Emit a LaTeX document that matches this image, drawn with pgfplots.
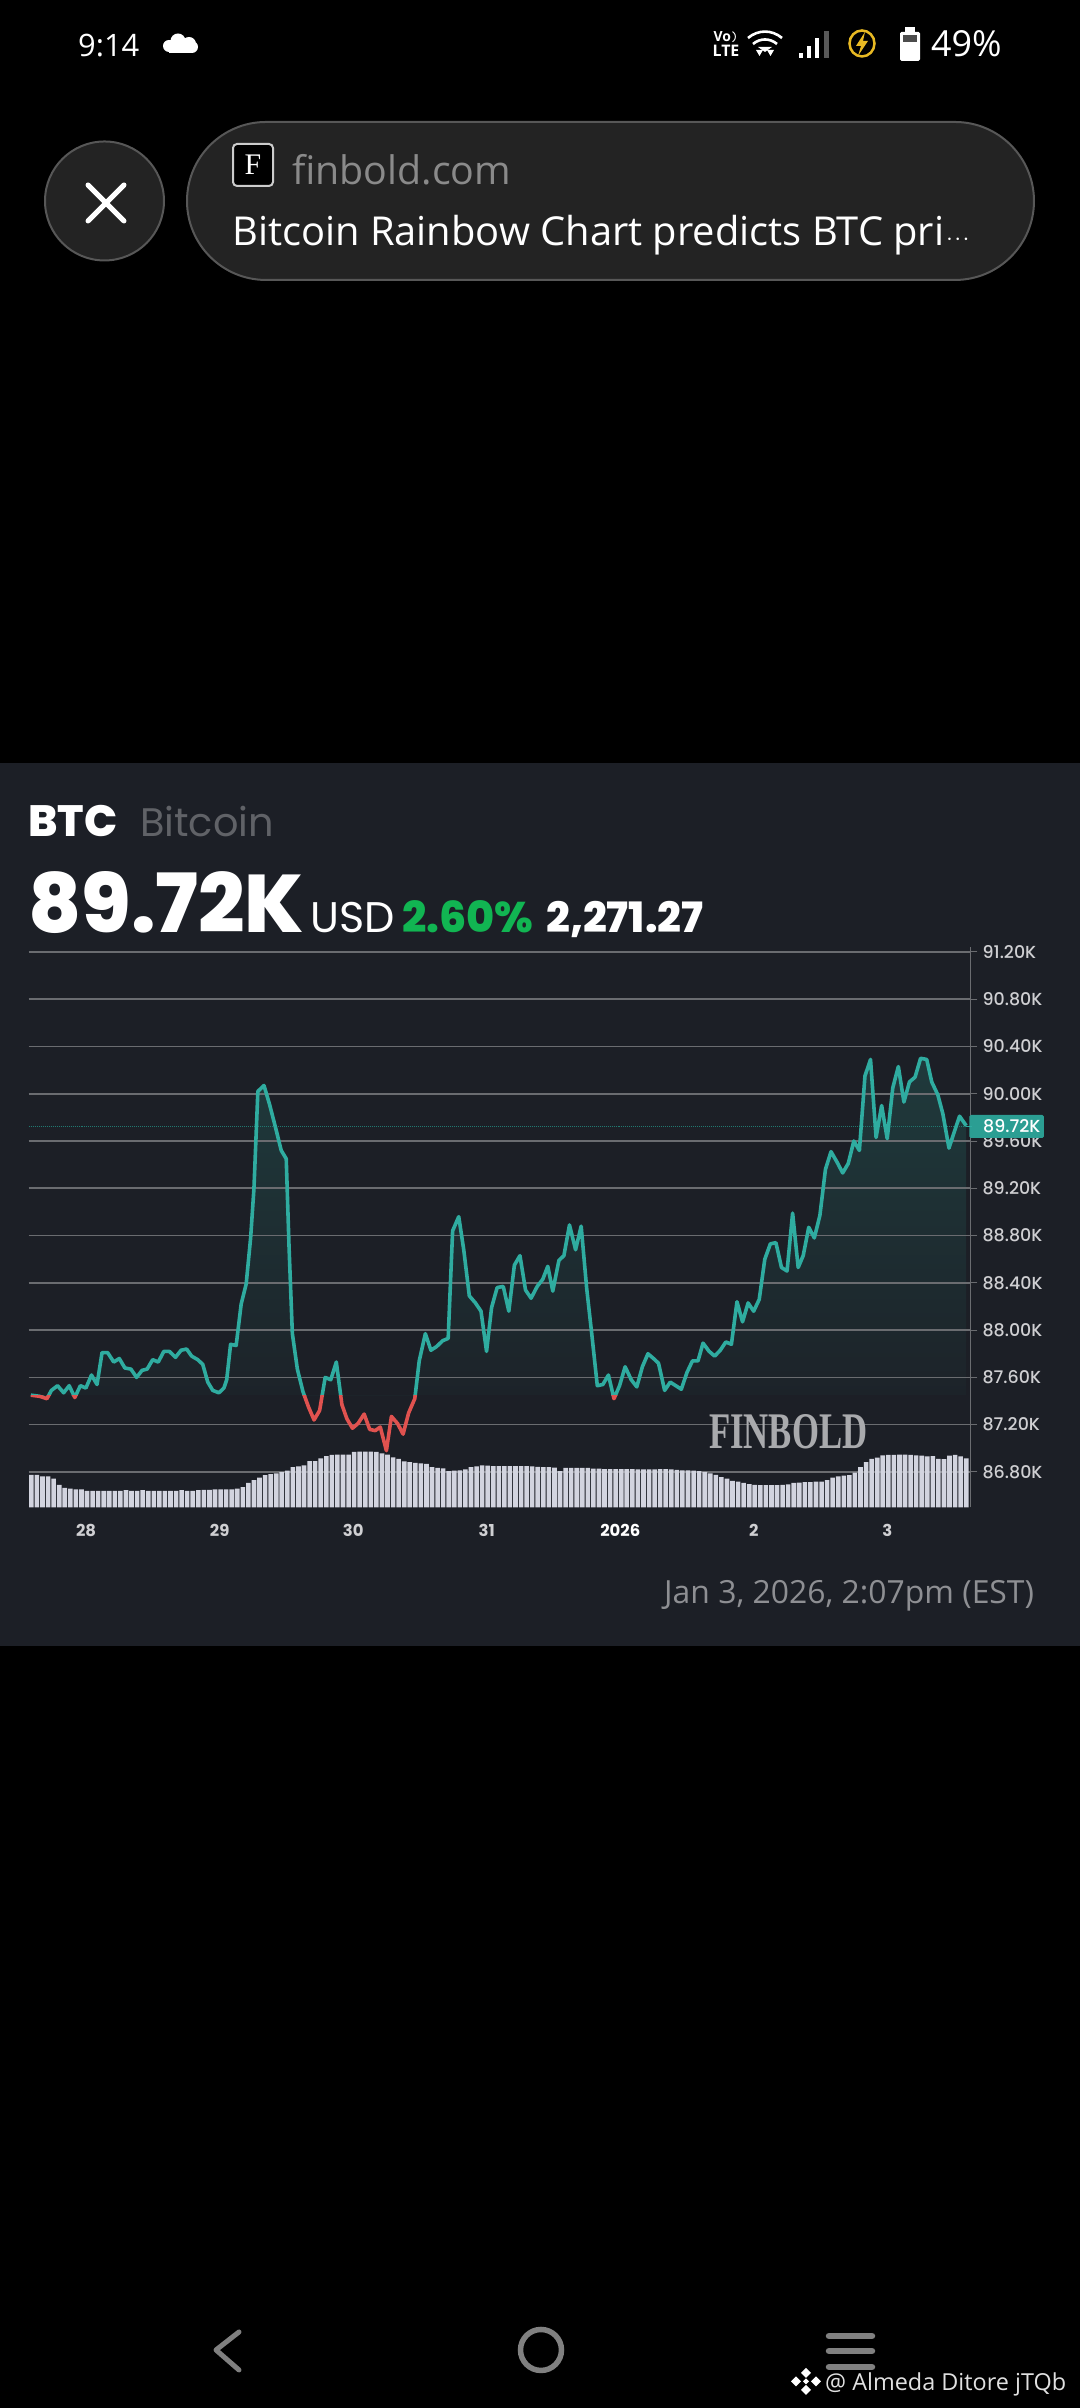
\documentclass[border=0pt]{standalone}
\usepackage{graphicx}
\usepackage{fontspec}
\usepackage{pgfplots}
\usepackage{pgfplotstable}
\pgfplotsset{compat=1.18}
\setmainfont{Poppins}
\newfontfamily\ui{Open Sans}
\newfontfamily\serif{Liberation Serif}
\newfontfamily\pmed{Poppins Medium}
\newfontfamily\pxb{Poppins ExtraBold}
\definecolor{panel}{HTML}{1C1F26}
\definecolor{teal}{HTML}{2FACA0}
\definecolor{redl}{HTML}{E0524F}
\definecolor{gridc}{HTML}{6A6C70}
\definecolor{barc}{HTML}{D2D4DF}
\definecolor{lab}{HTML}{CFCFD2}
\definecolor{pill}{HTML}{232323}
\definecolor{pillb}{HTML}{575757}
\definecolor{navg}{HTML}{808080}
\definecolor{HTMLarea}{HTML}{1F3A3C}
\definecolor{HTMLmid}{HTML}{1D2F33}
\definecolor{HTMLgreen}{HTML}{11B552}
\definecolor{HTMLyellow}{HTML}{E8B923}
\definecolor{HTMLgrey}{HTML}{8A8A8A}
\pgfplotstableread{
h p
0.4 87.45
2.0 87.44
3.3 87.42
4.1 87.49
5.2 87.53
6.3 87.47
7.3 87.53
8.3 87.43
9.3 87.53
10.3 87.51
11.3 87.62
12.3 87.54
13.2 87.81
14.2 87.81
15.3 87.73
16.3 87.76
17.3 87.68
18.4 87.67
19.4 87.60
20.4 87.66
21.3 87.67
22.3 87.75
23.3 87.73
24.3 87.82
25.3 87.82
26.4 87.77
27.4 87.83
28.4 87.84
29.3 87.78
30.4 87.75
31.3 87.71
32.2 87.56
33.1 87.49
34.2 87.47
35.1 87.51
35.6 87.58
36.3 87.88
37.3 87.87
38.2 88.22
39.1 88.39
39.9 88.78
40.5 89.20
41.2 90.02
42.3 90.07
43.3 89.91
44.4 89.71
45.4 89.52
46.3 89.45
46.8 88.71
47.4 87.97
48.3 87.67
49.3 87.48
50.3 87.35
51.3 87.24
52.3 87.32
53.3 87.60
54.3 87.58
55.3 87.73
56.3 87.37
57.2 87.25
58.2 87.17
59.2 87.21
60.3 87.29
61.3 87.16
62.3 87.15
63.2 87.18
64.3 86.98
65.2 87.27
66.3 87.21
67.3 87.12
68.3 87.30
69.4 87.42
70.2 87.74
71.3 87.97
72.3 87.83
73.3 87.86
74.4 87.91
75.4 87.93
76.2 88.84
77.3 88.96
78.2 88.68
79.2 88.29
80.3 88.23
81.3 88.16
82.3 87.82
83.2 88.19
84.2 88.36
85.3 88.37
86.3 88.16
87.3 88.55
88.3 88.63
89.3 88.34
90.3 88.27
91.4 88.37
92.4 88.43
93.3 88.54
94.2 88.33
95.3 88.59
96.2 88.63
97.2 88.89
98.3 88.68
99.3 88.88
100.3 88.35
101.2 87.97
102.2 87.53
103.2 87.54
104.2 87.62
105.2 87.42
106.2 87.53
107.2 87.69
108.3 87.58
109.3 87.52
110.3 87.69
111.3 87.80
112.3 87.76
113.2 87.72
114.3 87.49
115.3 87.56
116.3 87.53
117.3 87.50
118.3 87.64
119.3 87.74
120.3 87.74
121.2 87.89
122.3 87.82
123.3 87.78
124.3 87.83
125.3 87.90
126.3 87.88
127.3 88.24
128.3 88.07
129.3 88.23
130.3 88.16
131.3 88.26
132.3 88.60
133.3 88.73
134.3 88.74
135.3 88.53
136.3 88.50
137.3 88.99
138.3 88.53
139.2 88.63
140.2 88.87
141.2 88.78
142.2 88.97
143.2 89.36
144.2 89.51
145.3 89.42
146.3 89.33
147.3 89.41
148.3 89.60
149.3 89.52
150.3 90.15
151.3 90.29
152.3 89.63
153.3 89.90
154.3 89.62
155.3 90.05
156.3 90.23
157.3 89.93
158.3 90.10
159.3 90.14
160.3 90.30
161.4 90.29
162.3 90.10
163.4 89.99
164.3 89.83
165.4 89.54
166.3 89.67
167.3 89.81
168.5 89.73
}\price
\pgfplotstableread{
h v
0.5 85
1.5 85
2.5 81
3.5 81
4.5 75
5.5 59
6.5 51
7.5 49
8.5 47
9.5 47
10.5 43
11.5 43
12.5 43
13.5 43
14.5 43
15.5 43
16.5 43
17.5 45
18.5 43
19.5 43
20.5 45
21.5 43
22.5 43
23.5 43
24.5 43
25.5 43
26.5 43
27.5 45
28.5 43
29.5 43
30.5 45
31.5 46
32.5 46
33.5 47
34.5 47
35.5 47
36.5 47
37.5 49
38.5 53
39.5 64
40.5 71
41.5 78
42.5 84
43.5 87
44.5 89
45.5 92
46.5 96
47.5 105
48.5 107
49.5 110
50.5 121
51.5 121
52.5 128
53.5 134
54.5 137
55.5 138
56.5 138
57.5 138
58.5 145
59.5 146
60.5 146
61.5 146
62.5 145
63.5 141
64.5 138
65.5 131
66.5 127
67.5 120
68.5 118
69.5 116
70.5 115
71.5 114
72.5 105
73.5 103
74.5 102
75.5 95
76.5 96
77.5 97
78.5 99
79.5 105
80.5 107
81.5 110
82.5 109
83.5 108
84.5 108
85.5 108
86.5 108
87.5 108
88.5 108
89.5 108
90.5 107
91.5 106
92.5 105
93.5 105
94.5 104
95.5 95
96.5 103
97.5 103
98.5 103
99.5 103
100.5 103
101.5 101
102.5 101
103.5 100
104.5 100
105.5 100
106.5 100
107.5 100
108.5 100
109.5 99
110.5 99
111.5 99
112.5 99
113.5 100
114.5 100
115.5 99
116.5 98
117.5 97
118.5 97
119.5 96
120.5 95
121.5 93
122.5 89
123.5 85
124.5 79
125.5 75
126.5 69
127.5 67
128.5 64
129.5 61
130.5 59
131.5 58
132.5 58
133.5 58
134.5 58
135.5 59
136.5 60
137.5 64
138.5 65
139.5 66
140.5 66
141.5 67
142.5 67
143.5 71
144.5 78
145.5 81
146.5 83
147.5 84
148.5 91
149.5 105
150.5 118
151.5 127
152.5 130
153.5 136
154.5 137
155.5 137
156.5 138
157.5 138
158.5 137
159.5 136
160.5 135
161.5 133
162.5 134
163.5 127
164.5 126
165.5 135
166.5 137
167.5 133
168.5 128
}\volume
\pgfplotsset{
 layer/.style={scale only axis, width=941.8bp, xmin=0, xmax=169.25, clip=true, hide axis},
}
\tikzset{img/.style={x=1bp,y=-1bp,yshift=2408bp}}
\newcommand{\txt}[5]{\node[anchor=base west,inner sep=0pt,text=#4,font=#3] at (#1,#2) {#5};}
\begin{document}
\begin{tikzpicture}
\path[use as bounding box] (0,0) rectangle (1080bp,2408bp);
\fill[black] (0,0) rectangle (1080bp,2408bp);
\begin{scope}[img]
\fill[panel] (0,763) rectangle (1080,1646);
\end{scope}
% area under the curve
\begin{axis}[layer, name=area, at={(28.6bp,1012.85bp)}, anchor=south west, height=447.95bp, ymin=87.45, ymax=91.24]
\addplot[draw=none, shade, top color=HTMLarea, middle color=HTMLmid, bottom color=panel] table[x=h,y=p]{\price} \closedcycle;
\end{axis}
% grid, labels
\begin{axis}[scale only axis, width=941.8bp, height=560.2bp, at={(28.6bp,900.6bp)}, anchor=south west,
 xmin=0, xmax=169.25, ymin=86.5, ymax=91.24,
 axis x line=bottom, axis y line=right, x axis line style={draw=none,-}, y axis line style={draw=gridc,line width=1bp,-},
 ytick={86.8,87.2,87.6,88,88.4,88.8,89.2,89.6,90,90.4,90.8,91.2},
 yticklabels={86.80K,87.20K,87.60K,88.00K,88.40K,88.80K,89.20K,89.60K,90.00K,90.40K,90.80K,91.20K},
 xtick={10.33,34.33,58.33,82.33,106.33,130.33,154.33},
 xticklabels={28,29,30,31,\textcolor{white}{2026},2,3},
 ymajorgrids, grid style={draw=gridc,line width=1.6bp},
 y tick style={draw=gridc,line width=1bp}, x tick style={draw=none},
 tick align=outside, major tick length=7bp,
 y tick label style={font=\pmed\fontsize{17.5}{20}\selectfont, text=lab, anchor=west, inner sep=0pt, xshift=5bp},
 x tick label style={font=\fontsize{16.5}{19}\selectfont\bfseries, text=lab, inner sep=0pt, yshift=-10bp},
]
\addplot[teal!70!black, line width=1bp, densely dotted] coordinates {(0,89.72) (169.25,89.72)};
\end{axis}
% volume
\begin{axis}[layer, at={(28.6bp,900.6bp)}, anchor=south west, height=76.54bp, ymin=0, ymax=200]
\addplot[ybar, bar width=4.6bp, bar shift=0pt, fill=barc, draw=none] table[x=h,y=v]{\volume};
\end{axis}
% curve above the previous close
\begin{axis}[layer, at={(28.6bp,1012.85bp)}, anchor=south west, height=447.95bp, ymin=87.45, ymax=91.24]
\addplot[teal, line width=3.6bp, line join=round] table[x=h,y=p]{\price};
\end{axis}
% curve below the previous close
\begin{axis}[layer, at={(28.6bp,900.6bp)}, anchor=south west, height=112.25bp, ymin=86.5, ymax=87.45]
\addplot[redl, line width=3.6bp, line join=round] table[x=h,y=p]{\price};
\end{axis}
\begin{scope}[img]
% price tag
\fill[teal!92!black,rounded corners=1.5bp] (969.4,1115) rectangle (1043.8,1138);
\node[text=white,font=\pmed\fontsize{17.5}{20}\selectfont,anchor=west,inner sep=0pt] at (983,1126.5) {89.72K};
\draw[teal,line width=1bp] (966,1126.8) -- (972,1126.8);
% watermark
\node[anchor=north west,inner sep=0pt,text=white!62!panel] at (709,1414) {\resizebox{158bp}{34bp}{\serif\bfseries FINBOLD}};
% header
\txt{28}{837}{\pxb\fontsize{44}{50}\selectfont}{white}{BTC}
\txt{140}{837}{\fontsize{40}{50}\selectfont}{white!30!panel}{Bitcoin}
\txt{28}{933}{\pxb\fontsize{82}{95}\selectfont}{white}{89.72K}
\txt{310}{933}{\fontsize{43}{50}\selectfont}{white}{USD}
\txt{402}{933}{\pxb\fontsize{43}{50}\selectfont}{HTMLgreen}{2.60\%}
\txt{546}{933}{\pxb\fontsize{42}{50}\selectfont}{white}{2,271.27}
\txt{664}{1604}{\ui\fontsize{32}{38}\selectfont}{white!50!panel}{Jan 3, 2026, 2:07pm (EST)}
% status bar
\txt{78}{57}{\ui\fontsize{31}{38}\selectfont}{white}{9:14}
\fill[white] (169,46) circle (6) (178,41) circle (7.5) (189,44) circle (7) (192,47) circle (6);
\fill[white] (169,45) rectangle (193,53);
\node[text=white,font=\ui\fontsize{14}{14}\selectfont\bfseries,inner sep=0pt] at (726,37.5) {Vo\texttt{)}};
\node[text=white,font=\ui\fontsize{16}{16}\selectfont\bfseries,inner sep=0pt] at (726,51) {LTE};
\draw[white,line width=2.6bp] (748,38) to[bend left=40] (782,38);
\draw[white,line width=2.6bp] (753,44) to[bend left=40] (777,44);
\fill[white] (758,47) -- (772,47) -- (765,52) -- cycle;
\fill[white] (756,50) -- (763,50) -- (759.5,56) -- cycle;
\fill[white] (767,50) -- (774,50) -- (770.5,56) -- cycle;
\fill[white] (799,53) rectangle (803,58);
\fill[white] (807,46) rectangle (811,58);
\fill[white] (815,38) rectangle (819,58);
\fill[white!35!black] (824,31) rectangle (829,58);
\draw[HTMLyellow,line width=2.5bp,fill=black] (862,43.5) ellipse (12.5 and 13);
\fill[HTMLyellow] (865,32) -- (856,46) -- (861,46) -- (858,56) -- (868,41) -- (863,41) -- cycle;
\fill[white,rounded corners=1.5bp] (900,32) rectangle (920,61);
\fill[white] (905,27) rectangle (915,33);
\fill[black!70!white] (903,35) rectangle (917,42);
\txt{931}{57}{\ui\fontsize{36}{40}\selectfont}{white}{49\%}
% close button
\draw[pillb,line width=2bp,fill=pill] (104.5,201) circle (59.5);
\draw[white,line width=5bp,line cap=round] (88,185) -- (124,221) (124,185) -- (88,221);
% url pill
\draw[pillb,line width=2bp,fill=pill,rounded corners=79bp] (187,122) rectangle (1034,280);
\draw[white!80!black,line width=2bp,fill=black,rounded corners=4bp] (233,144) rectangle (273,186);
\node[text=white,font=\serif\fontsize{30}{30}\selectfont,inner sep=0pt] at (253,165) {F};
\txt{292}{185}{\ui\fontsize{39.5}{44}\selectfont}{HTMLgrey}{finbold.com}
\txt{232}{246}{\ui\fontsize{40}{46}\selectfont}{white}{Bitcoin Rainbow Chart predicts BTC pri\hspace{2bp}\textbf{$\cdot\!\cdot\!\cdot$}}
% navigation bar
\draw[navg,line width=5bp,line cap=round,line join=round] (239,2332) -- (216,2350) -- (239,2370);
\draw[navg,line width=5.5bp] (541,2350) circle (20.5);
\draw[navg,line width=6.5bp,line cap=round] (829,2336) -- (872,2336) (829,2351) -- (872,2351) (829,2367) -- (872,2367);
% overlay signature
\foreach \cx/\cy/\r in {806/2373/5,796/2381.5/5,816/2381.5/5,806/2381.5/3,806/2390/5}{
  \fill[white] (\cx-\r,\cy) -- (\cx,\cy-\r) -- (\cx+\r,\cy) -- (\cx,\cy+\r) -- cycle;}
\txt{825}{2391}{\ui\fontsize{23.5}{28}\selectfont}{white!88!black}{@ Almeda Ditore jTQb}
\end{scope}
\end{tikzpicture}
\end{document}
